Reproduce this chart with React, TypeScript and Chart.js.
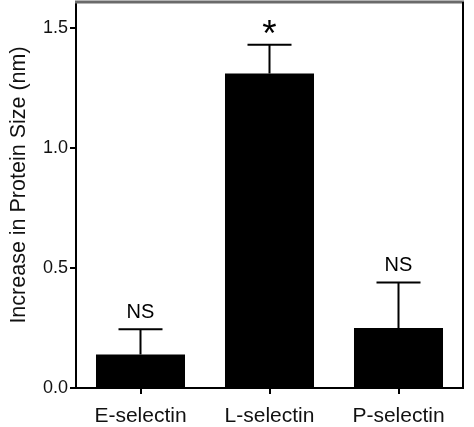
import React, { useEffect, useRef } from "react";
import { Chart, registerables } from "chart.js";

Chart.register(...registerables);

const categories = ["E-selectin", "L-selectin", "P-selectin"];
const means = [0.14, 1.31, 0.25];
const errors = [0.105, 0.12, 0.19];
const annotations = ["NS", "*", "NS"];
const yTicks = [0, 0.5, 1.0, 1.5];
const yTitle = "Increase in Protein Size (nm)";

const FONT = "'Liberation Sans', Arial, sans-serif";

const overlay = {
  id: "overlay",
  afterDatasetsDraw(chart: any) {
    const { ctx, chartArea, scales } = chart;
    const x = scales.x;
    const y = scales.y;
    ctx.save();
    ctx.strokeStyle = "#000";
    ctx.lineWidth = 2;
    means.forEach((m, i) => {
      const cx = x.getPixelForValue(i);
      const top = y.getPixelForValue(m + errors[i]);
      const base = y.getPixelForValue(m);
      ctx.beginPath();
      ctx.moveTo(cx, base);
      ctx.lineTo(cx, top);
      ctx.moveTo(cx - 22, top);
      ctx.lineTo(cx + 22, top);
      ctx.stroke();
      ctx.fillStyle = "#000";
      ctx.textAlign = "center";
      ctx.textBaseline = "alphabetic";
      let size = annotations[i] === "*" ? 34 : 20;
      ctx.font = `${size}px ${FONT}`;
      let mt = ctx.measureText(annotations[i]);
      if (annotations[i] === "*") {
        const h = mt.actualBoundingBoxAscent + mt.actualBoundingBoxDescent;
        size = (size * 13) / h;
        ctx.font = `${size}px ${FONT}`;
        mt = ctx.measureText(annotations[i]);
      }
      const bottomGap = 11;
      ctx.fillText(annotations[i], cx, top - bottomGap - mt.actualBoundingBoxDescent);
    });
    ctx.strokeStyle = "#6a6a6a";
    ctx.lineWidth = 3;
    ctx.beginPath();
    ctx.moveTo(chartArea.left - 1, chartArea.top);
    ctx.lineTo(chartArea.right + 1, chartArea.top);
    ctx.stroke();
    ctx.strokeStyle = "#000";
    ctx.lineWidth = 2;
    ctx.beginPath();
    ctx.moveTo(chartArea.right, chartArea.top);
    ctx.lineTo(chartArea.right, chartArea.bottom);
    ctx.stroke();
    ctx.translate(19, 185);
    ctx.rotate(-Math.PI / 2);
    ctx.font = `21.5px ${FONT}`;
    ctx.fillStyle = "#111";
    ctx.textAlign = "center";
    ctx.textBaseline = "middle";
    ctx.fillText(yTitle, 0, 0);
    ctx.restore();
  },
};

export default function App() {
  const ref = useRef<HTMLCanvasElement>(null);
  useEffect(() => {
    document.body.style.margin = "0";
    const chart = new Chart(ref.current!, {
      type: "bar",
      data: {
        labels: categories,
        datasets: [
          {
            data: means,
            backgroundColor: "#000",
            borderWidth: 0,
            barPercentage: 0.69,
            categoryPercentage: 1,
          },
        ],
      },
      options: {
        animation: false,
        responsive: false,
        devicePixelRatio: 1,
        layout: { padding: { top: 2, right: 11, left: 0, bottom: 0 } },
        plugins: { legend: { display: false }, tooltip: { enabled: false } },
        scales: {
          x: {
            grid: {
              offset: false,
              drawOnChartArea: false,
              drawTicks: true,
              tickLength: 6,
              color: "#000",
              lineWidth: 2,
            },
            border: { color: "#000", width: 2 },
            ticks: {
              color: "#111",
              font: { family: FONT, size: 21 },
              padding: 10,
            },
            afterFit: (s: any) => {
              s.height = 39;
              s.paddingLeft = 0;
              s.paddingRight = 0;
            },
          },
          y: {
            min: 0,
            max: 1.608,
            afterBuildTicks: (s: any) => {
              s.ticks = yTicks.map((v) => ({ value: v }));
            },
            grid: {
              drawOnChartArea: false,
              drawTicks: true,
              tickLength: 6,
              color: "#000",
              lineWidth: 2,
            },
            border: { color: "#000", width: 2 },
            ticks: {
              color: "#111",
              font: { family: FONT, size: 18 },
              padding: 2,
              callback: (v: any) => Number(v).toFixed(1),
            },
            afterFit: (s: any) => {
              s.width = 76;
              s.paddingTop = 0;
              s.paddingBottom = 0;
            },
          },
        },
      },
      plugins: [overlay],
    });
    return () => chart.destroy();
  }, []);
  return (
    <div style={{ width: 474, height: 427, background: "#fff" }}>
      <canvas ref={ref} width={474} height={427} />
    </div>
  );
}
